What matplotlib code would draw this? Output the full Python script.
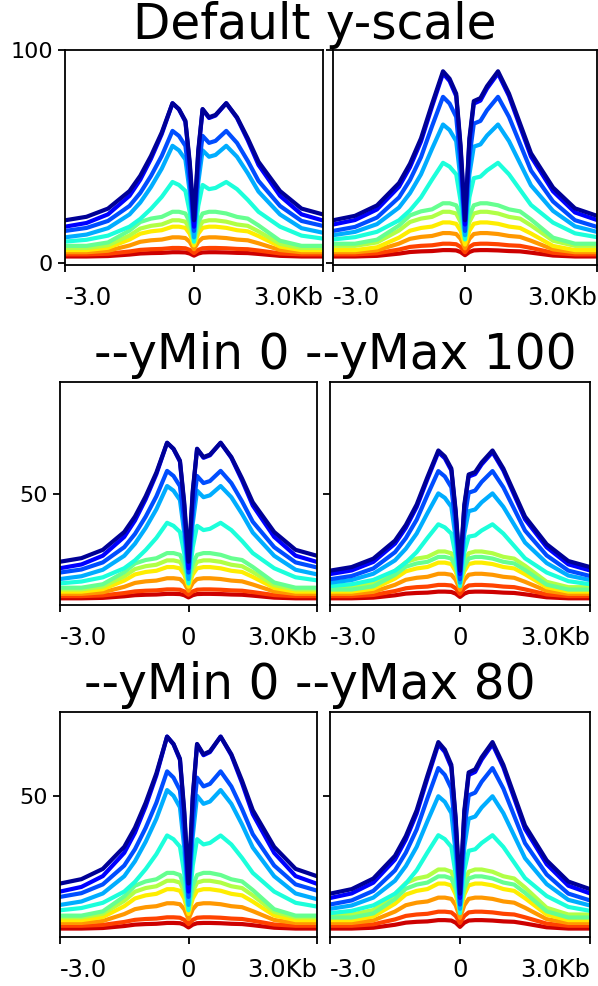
import numpy as np
import matplotlib
matplotlib.use("Agg")
import matplotlib.pyplot as plt

# normalized profile shapes (position in kb)
pos_kb = [-3, -2.5, -2, -1.5, -1.25, -1, -0.75, -0.5, -0.35, -0.2, -0.1, 0, 0.1, 0.2, 0.35, 0.5, 0.75, 1, 1.25, 1.5, 2, 2.5, 3]
shape_left = [0, 0.03, 0.1, 0.25, 0.38, 0.55, 0.75, 1.0, 0.95, 0.85, 0.5, 0.0, 0.6, 0.95, 0.88, 0.9, 1.0, 0.88, 0.7, 0.5, 0.25, 0.1, 0.05]
shape_right = [0, 0.03, 0.1, 0.25, 0.38, 0.55, 0.78, 1.0, 0.95, 0.85, 0.5, 0.0, 0.55, 0.8, 0.82, 0.9, 1.0, 0.85, 0.65, 0.45, 0.22, 0.08, 0.03]
# flatter, plateau-like shape of the low lines
shape_low = [0, 0.0, 0.1, 0.45, 0.7, 0.8, 0.85, 1.0, 1.0, 0.95, 0.7, 0.2, 0.7, 0.95, 1.0, 1.0, 0.95, 0.85, 0.8, 0.6, 0.15, 0.0, 0.0]

# per line: edge baseline and peak height (highest -> lowest)
left_base = [20, 17, 15, 12, 10, 8, 7, 6, 5, 4, 3]
left_peak = [75, 75, 62, 55, 38, 24, 20, 17, 12, 7, 5]
right_base = [20, 18, 15, 13, 11, 9, 8, 6, 5, 4, 3]
right_peak = [90, 89, 78, 65, 47, 28, 24, 19, 14, 9, 6]
right_scale = [1.0, 0.77, 0.77]
left_scale = [1.0, 0.97, 0.95]

titles = ["Default y-scale", "--yMin 0 --yMax 100", "--yMin 0 --yMax 80"]
title_pos = [(0.527, 0.975), (0.56, 0.64), (0.518, 0.305)]
ylims = [(-1, 100), (0, 100), (0, 80)]
yticks = [[0, 100], [50], [50]]
xticks = [-3, 0, 3]
xticklabels = ["-3.0", "0", "3.0Kb"]

fig = plt.figure(figsize=(5.98, 9.86), dpi=100)
W, H = 598, 986
rows = [
    ((65, 258), (333, 264), 50, 265),
    ((60, 257), (330, 260), 382, 605),
    ((60, 257), (330, 260), 712, 937),
]
n = len(left_base)
colors = [plt.cm.jet(v) for v in np.linspace(0.02, 0.93, n)]

for r, (lx, rx, top, bot) in enumerate(rows):
    fig.text(title_pos[r][0], title_pos[r][1], titles[r], ha="center", va="center", fontsize=35)
    for c, (x0, w) in enumerate([lx, rx]):
        ax = fig.add_axes([x0 / W, (H - bot) / H, w / W, (bot - top) / H])
        base = left_base if c == 0 else right_base
        peak = left_peak if c == 0 else right_peak
        shp = shape_left if c == 0 else shape_right
        sc = left_scale[r] if c == 0 else right_scale[r]
        for i in range(n - 1, -1, -1):
            s_use = shp if i < 5 else shape_low
            y = [(base[i] + (peak[i] - base[i]) * s) * (sc if i < 6 else 1) for s in s_use]
            ax.plot(pos_kb, y, color=colors[i], lw=3)
        ax.set_xlim(-3, 3)
        ax.set_ylim(*ylims[r])
        ax.set_xticks(xticks)
        labs = ax.set_xticklabels(xticklabels, fontsize=17.5)
        labs[0].set_ha("left")
        labs[2].set_ha("right")
        ax.set_yticks(yticks[r])
        ax.tick_params(length=5, width=1.3)
        ax.tick_params(axis="x", pad=10)
        if c == 0:
            ax.set_yticklabels([str(t) for t in yticks[r]], fontsize=16)
        else:
            ax.set_yticklabels([])
        for s in ax.spines.values():
            s.set_linewidth(1.3)

fig.savefig("out.png", dpi=100)
